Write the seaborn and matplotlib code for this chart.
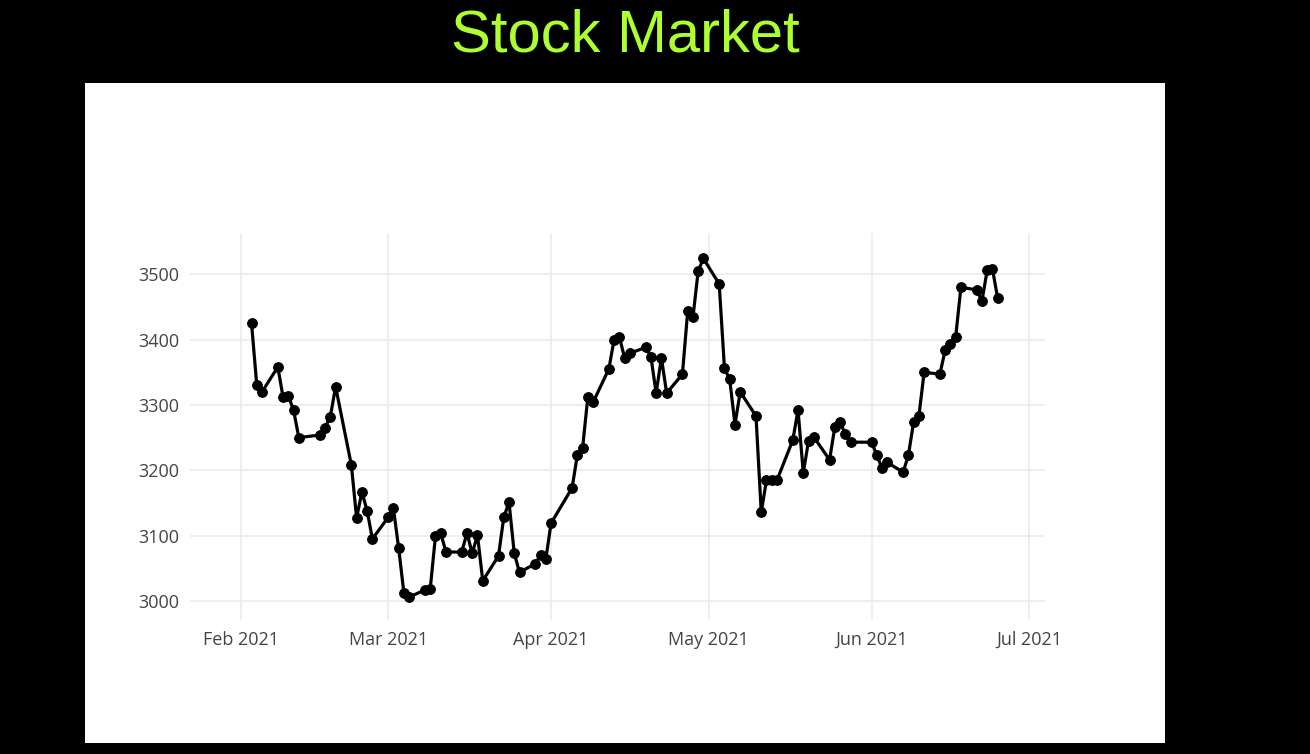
import pandas as pd
import matplotlib.pyplot as plt
import matplotlib.dates as mdates
from matplotlib.patches import Rectangle
import seaborn as sns

# 読み取ったデータ
dates = ["2021-02-03", "2021-02-04", "2021-02-05", "2021-02-08", "2021-02-09", "2021-02-10",
         "2021-02-11", "2021-02-12", "2021-02-16", "2021-02-17", "2021-02-18", "2021-02-19",
         "2021-02-22", "2021-02-23", "2021-02-24", "2021-02-25", "2021-02-26", "2021-03-01",
         "2021-03-02", "2021-03-03", "2021-03-04", "2021-03-05", "2021-03-08", "2021-03-09",
         "2021-03-10", "2021-03-11", "2021-03-12", "2021-03-15", "2021-03-16", "2021-03-17",
         "2021-03-18", "2021-03-19", "2021-03-22", "2021-03-23", "2021-03-24", "2021-03-25",
         "2021-03-26", "2021-03-29", "2021-03-30", "2021-03-31", "2021-04-01", "2021-04-05",
         "2021-04-06", "2021-04-07", "2021-04-08", "2021-04-09", "2021-04-12", "2021-04-13",
         "2021-04-14", "2021-04-15", "2021-04-16", "2021-04-19", "2021-04-20", "2021-04-21",
         "2021-04-22", "2021-04-23", "2021-04-26", "2021-04-27", "2021-04-28", "2021-04-29",
         "2021-04-30", "2021-05-03", "2021-05-04", "2021-05-05", "2021-05-06", "2021-05-07",
         "2021-05-10", "2021-05-11", "2021-05-12", "2021-05-13", "2021-05-14", "2021-05-17",
         "2021-05-18", "2021-05-19", "2021-05-20", "2021-05-21", "2021-05-24", "2021-05-25",
         "2021-05-26", "2021-05-27", "2021-05-28", "2021-06-01", "2021-06-02", "2021-06-03",
         "2021-06-04", "2021-06-07", "2021-06-08", "2021-06-09", "2021-06-10", "2021-06-11",
         "2021-06-14", "2021-06-15", "2021-06-16", "2021-06-17", "2021-06-18", "2021-06-21",
         "2021-06-22", "2021-06-23", "2021-06-24", "2021-06-25"]
prices = [3425, 3330, 3320, 3358, 3312, 3314, 3292, 3250, 3254, 3265, 3282, 3328,
          3208, 3127, 3167, 3138, 3095, 3128, 3142, 3081, 3012, 3006, 3017, 3018,
          3099, 3104, 3075, 3075, 3104, 3073, 3101, 3031, 3069, 3128, 3151, 3073,
          3044, 3057, 3070, 3064, 3119, 3173, 3223, 3234, 3312, 3304, 3355, 3400,
          3404, 3372, 3379, 3388, 3374, 3318, 3372, 3318, 3347, 3443, 3434, 3505,
          3524, 3485, 3356, 3339, 3270, 3320, 3283, 3136, 3185, 3185, 3185, 3246,
          3292, 3196, 3245, 3251, 3216, 3266, 3274, 3255, 3243, 3243, 3223, 3203,
          3212, 3197, 3223, 3274, 3283, 3350, 3347, 3384, 3393, 3404, 3480, 3476,
          3459, 3506, 3508, 3463]

df = pd.DataFrame({"date": pd.to_datetime(dates), "price": prices})

sns.set_style("white")
plt.rcParams['font.family'] = ['Open Sans', 'DejaVu Sans']
fig = plt.figure(figsize=(13.1, 7.54), dpi=100, facecolor="black")
W, H = 1310, 754
fig.patches.append(Rectangle((85 / W, 1 - 743 / H), 1080 / W, 660 / H,
                             transform=fig.transFigure, facecolor="white",
                             edgecolor="none", zorder=-10))
ax = fig.add_axes([190 / W, 1 - 620 / H, 855 / W, 387 / H])
ax.set_facecolor("white")

sns.lineplot(data=df, x="date", y="price", ax=ax, color="black", linewidth=2.3,
             marker="o", markersize=7, markeredgecolor="black")

ax.set_xlim(pd.Timestamp("2021-01-22 07:00"), pd.Timestamp("2021-07-04"))
ax.set_ylim(2971, 3563)
ax.set_yticks([3000, 3100, 3200, 3300, 3400, 3500])
ax.xaxis.set_major_locator(mdates.MonthLocator())
ax.xaxis.set_major_formatter(mdates.DateFormatter("%b %Y"))
ax.grid(True, color="#ebebeb", linewidth=1.2)
for s in ax.spines.values():
    s.set_visible(False)
ax.tick_params(length=0, labelsize=13, labelcolor="#444444", pad=8)
ax.set_xlabel("")
ax.set_ylabel("")

fig.text(625 / W, 1 - 36 / H, "Stock Market", color="#adff2f", fontsize=43,
         ha="center", va="center", family="Liberation Sans")

fig.savefig("out.png", dpi=100, facecolor="black")
